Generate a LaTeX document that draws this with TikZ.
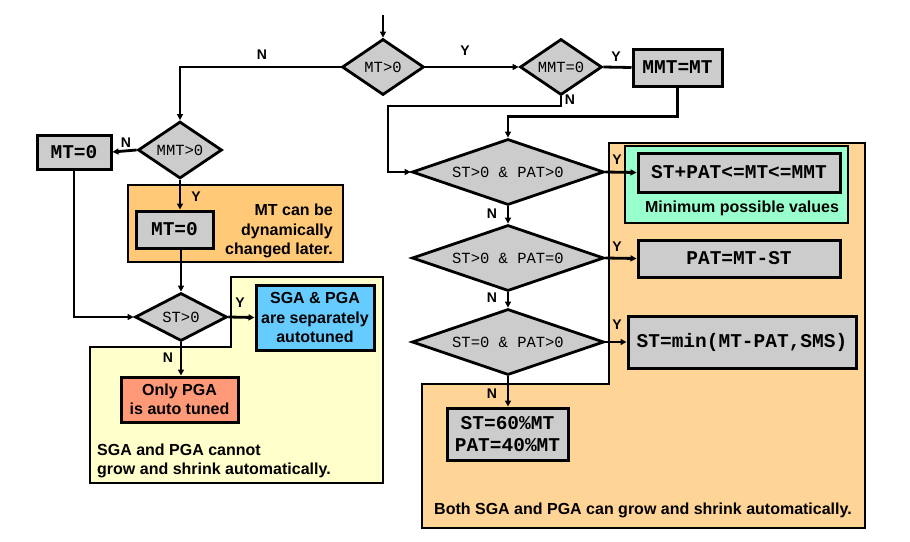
\documentclass[tikz,border=0pt]{standalone}
\usepackage{fontspec}
\setmainfont{Liberation Sans}
\newfontfamily\monof{Liberation Mono}
\usetikzlibrary{shapes.geometric,arrows.meta}
\definecolor{boxgray}{HTML}{CCCCCC}
\definecolor{orangeA}{HTML}{FFC978}
\definecolor{orangeB}{HTML}{FFD496}
\definecolor{mint}{HTML}{99FFCC}
\definecolor{skyb}{HTML}{66CCFF}
\definecolor{salmon}{HTML}{FF9977}
\definecolor{paley}{HTML}{FFFFCC}
\tikzset{
  dia/.style={shape=diamond, draw, fill=boxgray, line width=2.8pt, inner sep=0pt,
    font=\monof\fontsize{15.5}{18}\selectfont},
  gbox/.style={draw, fill=boxgray, line width=3pt, inner sep=0pt, align=center,
    font=\monof\bfseries\fontsize{19.5}{22}\selectfont},
  tbox/.style={draw, line width=3pt, inner sep=0pt, align=center,
    font=\bfseries\fontsize{16}{19.5}\selectfont},
  region/.style={draw, line width=2.8pt},
  conn/.style={line width=2.8pt},
  arr/.style={conn, -{Triangle[length=6pt,width=6pt]}},
  lbl/.style={font=\bfseries\fontsize{14}{16}\selectfont, inner sep=0pt},
  note/.style={font=\bfseries\fontsize{16}{19.5}\selectfont, inner sep=0pt}
}
\begin{document}
\begin{tikzpicture}[x=1pt,y=-1pt]
\useasboundingbox (0,0) rectangle (910,541);
% background regions
\draw[region, fill=paley] (231,277) -- (383,277) -- (383,483) -- (90,483) -- (90,347) -- (231,347) -- cycle;
\draw[region, fill=orangeB] (609,143) -- (865,143) -- (865,528) -- (422,528) -- (422,384) -- (609,384) -- cycle;
\draw[region, fill=orangeA] (128,185) rectangle (343,262);
\draw[region, fill=mint] (625,146) rectangle (848,223);

% decisions
\node[dia, minimum width=82pt, minimum height=56pt, shape aspect=1.46] (mt0) at (383,67) {MT>0};
\node[dia, minimum width=82pt, minimum height=56pt, shape aspect=1.46] (mmt0) at (561,67) {MMT=0};
\node[dia, minimum width=84pt, minimum height=57pt, shape aspect=1.46] (mmtgt) at (180,150) {MMT>0};
\node[dia, minimum width=92pt, minimum height=48pt, shape aspect=1.9] (st0) at (181,317) {ST>0};
\node[dia, minimum width=192pt, minimum height=66pt, shape aspect=2.9] (d1) at (508,172) {ST>0 \& PAT>0};
\node[dia, minimum width=192pt, minimum height=66pt, shape aspect=2.9] (d2) at (508,258) {ST>0 \& PAT=0};
\node[dia, minimum width=192pt, minimum height=66pt, shape aspect=2.9] (d3) at (508,342) {ST=0 \& PAT>0};

% boxes
\node[gbox, minimum width=89pt, minimum height=37pt] (mmtmt) at (677.5,67.5) {MMT=MT};
\node[gbox, minimum width=74pt, minimum height=34pt] (mt0a) at (74,152) {MT=0};
\node[gbox, minimum width=77pt, minimum height=37pt] (mt0b) at (174.5,229.5) {MT=0};
\node[tbox, fill=skyb, minimum width=118pt, minimum height=65pt] (sga) at (315,317.5) {SGA \& PGA\\are separately\\autotuned};
\node[tbox, fill=salmon, minimum width=117pt, minimum height=45pt] (pga) at (179.5,399.5) {Only PGA\\is auto tuned};
\node[gbox, minimum width=202pt, minimum height=39pt] (minbox) at (739,172.5) {ST+PAT<=MT<=MMT};
\node[gbox, minimum width=202pt, minimum height=37pt] (patbox) at (739,258.5) {PAT=MT-ST};
\node[gbox, minimum width=228pt, minimum height=52pt] (stbox) at (742,342) {ST=min(MT-PAT,SMS)};
\node[gbox, minimum width=121pt, minimum height=52pt] (box60) at (507.5,434) {ST=60\%MT\\PAT=40\%MT};

% notes
\node[note, anchor=east, align=right] (n1) at (333,231) {MT can be\\dynamically\\changed later.};
\node[note, anchor=west, align=left] (n2) at (97,461) {SGA and PGA cannot\\grow and shrink automatically.};
\node[note] (n3) at (742,208) {Minimum possible values};
\node[note] (n4) at (643,510) {Both SGA and PGA can grow and shrink automatically.};

% connectors
\coordinate (start) at (383,15);
\coordinate (j1) at (388,106);
\draw[arr] (start) -- (mt0.north);
\draw[arr] (mt0.east) -- (mmt0.west);
\draw[conn] (mmt0.east) -- (mmtmt.west);
\draw[arr] (mmtmt.south) -- ++(0,29) -| (d1.north);
\draw[arr] (mmt0.south) |- (j1) |- (d1.west);
\draw[arr] (mt0.west) -| (mmtgt.north);
\draw[arr] (mmtgt.west) -- (mt0a.east);
\draw[arr] (mmtgt.south) -- (mmtgt.south |- mt0b.north);
\draw[arr] (mt0a.south) |- (st0.west);
\draw[arr] (st0.north |- mt0b.south) -- (st0.north);
\draw[arr] (st0.east) -- (sga.west);
\draw[arr] (st0.south) -- (st0.south |- pga.north);
\draw[arr] (d1.south) -- (d2.north);
\draw[arr] (d2.south) -- (d3.north);
\draw[arr] (d3.south) -- (d3.south |- box60.north);
\draw[arr] (d1.east) -- (minbox.west);
\draw[arr] (d2.east) -- (patbox.west);
\draw[arr] (d3.east) -- (stbox.west);

% Y/N labels
\node[lbl] (l1) at (262,55) {N};
\node[lbl] (l2) at (465,51) {Y};
\node[lbl] (l3) at (616,57) {Y};
\node[lbl] (l4) at (570,100) {N};
\node[lbl] (l5) at (126,143) {N};
\node[lbl] (l6) at (196,197) {Y};
\node[lbl] (l7) at (240,303) {Y};
\node[lbl] (l8) at (168,358) {N};
\node[lbl] (l9) at (617,160) {Y};
\node[lbl] (l10) at (492,214) {N};
\node[lbl] (l11) at (617,247) {Y};
\node[lbl] (l12) at (492,298) {N};
\node[lbl] (l13) at (617,325) {Y};
\node[lbl] (l14) at (492,394) {N};
\end{tikzpicture}
\end{document}
